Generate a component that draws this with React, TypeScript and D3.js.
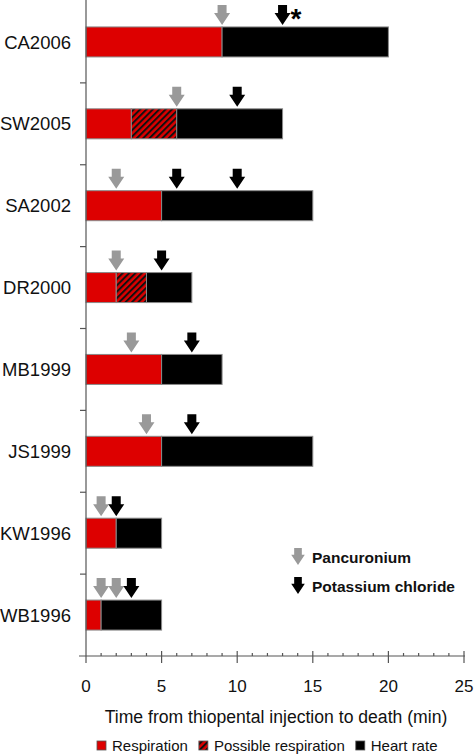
import React, { useEffect, useRef } from 'react';
import * as d3 from 'd3';

// subjects, top to bottom
const subjects = ['CA2006', 'SW2005', 'SA2002', 'DR2000', 'MB1999', 'JS1999', 'KW1996', 'WB1996'];
// phase durations (min), stacked left to right
const respiration = [9, 3, 5, 2, 5, 5, 2, 1];
const possibleRespiration = [0, 3, 0, 2, 0, 0, 0, 0];
const heartRate = [11, 7, 10, 3, 4, 10, 3, 4];
// drug injection times (min)
const pancuronium = [[9], [6], [2], [2], [3], [4], [1], [1, 2]];
const potassiumChloride = [[13], [10], [6, 10], [5], [7], [7], [2], [3]];
const starred = ['CA2006'];

const xTicks = [0, 5, 10, 15, 20, 25];
const phases = ['Respiration', 'Possible respiration', 'Heart rate'];
const drugs = ['Pancuronium', 'Potassium chloride'];

const W = 474;
const H = 754;
const FONT = '"Liberation Sans", Arial, sans-serif';
const RED = '#dd0000';
const GREY = '#999999';

// block arrow pointing down, tip at (cx, tip)
const arrowPath = (cx: number, tip: number, s = 1) => {
  const h = 20 * s, hh = 12 * s, hw = 8 * s, sw = 4.5 * s;
  return `M${cx - sw},${tip - h}L${cx + sw},${tip - h}L${cx + sw},${tip - hh}L${cx + hw},${tip - hh}` +
    `L${cx},${tip}L${cx - hw},${tip - hh}L${cx - sw},${tip - hh}Z`;
};

const App: React.FC = () => {
  const svgRef = useRef<SVGSVGElement | null>(null);

  useEffect(() => {
    const svg = d3.select(svgRef.current);
    svg.selectAll('*').remove();

    const x = d3.scaleLinear().domain([0, 25]).range([86, 464]);
    const y = d3.scaleBand().domain(subjects).range([1, 656]).paddingInner(0).paddingOuter(0);
    const barH = 30;

    const defs = svg.append('defs');
    const pat = defs.append('pattern')
      .attr('id', 'hatch')
      .attr('patternUnits', 'userSpaceOnUse')
      .attr('width', 4.5)
      .attr('height', 4.5)
      .attr('patternTransform', 'rotate(45)');
    pat.append('rect').attr('width', 4.5).attr('height', 4.5).attr('fill', RED);
    pat.append('rect').attr('width', 2).attr('height', 4.5).attr('fill', '#111');

    const rows = subjects.map((s, i) => ({
      subject: s,
      Respiration: respiration[i],
      'Possible respiration': possibleRespiration[i],
      'Heart rate': heartRate[i],
    }));
    const stack = d3.stack<any>().keys(phases)(rows);
    const fills = [RED, 'url(#hatch)', '#000'];

    // bars
    stack.forEach((layer, k) => {
      svg.append('g').selectAll('rect')
        .data(layer.filter(d => d[1] > d[0]))
        .join('rect')
        .attr('x', d => x(d[0]))
        .attr('y', d => y(d.data.subject)! + y.bandwidth() / 2 - barH / 2)
        .attr('width', d => x(d[1]) - x(d[0]))
        .attr('height', barH)
        .attr('fill', fills[k])
        .attr('stroke', '#8a8a8a')
        .attr('stroke-width', 1);
    });

    // y axis
    const gy = svg.append('g');
    gy.append('line').attr('x1', 86).attr('x2', 86).attr('y1', 0).attr('y2', 663)
      .attr('stroke', '#555').attr('stroke-width', 1.2);
    subjects.slice(1).forEach(s => {
      gy.append('line').attr('x1', 80).attr('x2', 86)
        .attr('y1', y(s)!).attr('y2', y(s)!)
        .attr('stroke', '#555').attr('stroke-width', 1.2);
    });
    gy.selectAll('text.lab')
      .data(subjects)
      .join('text')
      .attr('class', 'lab')
      .attr('x', 71)
      .attr('y', d => y(d)! + y.bandwidth() / 2)
      .attr('dy', '0.36em')
      .attr('text-anchor', 'end')
      .attr('font-family', FONT)
      .attr('font-size', 18.5)
      .attr('fill', '#111')
      .text(d => d);

    // x axis
    const gx = svg.append('g');
    gx.append('line').attr('x1', 79).attr('x2', 465).attr('y1', 656).attr('y2', 656)
      .attr('stroke', '#555').attr('stroke-width', 1.2);
    d3.range(1, 26).forEach(v => {
      const major = v % 5 === 0;
      gx.append('line')
        .attr('x1', x(v)).attr('x2', x(v))
        .attr('y1', major ? 651 : 653).attr('y2', major ? 663 : 656)
        .attr('stroke', '#555').attr('stroke-width', 1.2);
    });
    gx.selectAll('text.tick')
      .data(xTicks)
      .join('text')
      .attr('class', 'tick')
      .attr('x', d => x(d))
      .attr('y', 686)
      .attr('dy', '0.36em')
      .attr('text-anchor', 'middle')
      .attr('font-family', FONT)
      .attr('font-size', 17)
      .attr('fill', '#111')
      .text(d => d);
    svg.append('text')
      .attr('x', 276)
      .attr('y', 717)
      .attr('dy', '0.36em')
      .attr('text-anchor', 'middle')
      .attr('font-family', FONT)
      .attr('font-size', 17.6)
      .attr('fill', '#111')
      .text('Time from thiopental injection to death (min)');

    // arrows
    subjects.forEach((s, i) => {
      const tip = y(s)! + y.bandwidth() / 2 - barH / 2 - 2;
      pancuronium[i].forEach(t => {
        svg.append('path').attr('d', arrowPath(x(t), tip)).attr('fill', GREY);
      });
      potassiumChloride[i].forEach(t => {
        svg.append('path').attr('d', arrowPath(x(t), tip)).attr('fill', '#000');
      });
      if (starred.includes(s)) {
        const last = d3.max(potassiumChloride[i])!;
        svg.append('text')
          .attr('x', x(last) + 8)
          .attr('y', tip + 3)
          .attr('font-family', FONT)
          .attr('font-weight', 'bold')
          .attr('font-size', 28)
          .attr('fill', '#000')
          .text('*');
      }
    });

    // drug legend
    const dl = svg.append('g');
    drugs.forEach((d, i) => {
      const cy = 557 + i * 29;
      dl.append('path').attr('d', arrowPath(298, cy + 8, 0.85)).attr('fill', i === 0 ? GREY : '#000');
      dl.append('text')
        .attr('x', 312)
        .attr('y', cy)
        .attr('dy', '0.36em')
        .attr('font-family', FONT)
        .attr('font-weight', 'bold')
        .attr('font-size', 15.5)
        .attr('fill', '#111')
        .text(d);
    });

    // phase legend
    const pl = svg.append('g');
    let cx = 97;
    phases.forEach((p, i) => {
      pl.append('rect')
        .attr('x', cx).attr('y', 741).attr('width', 9).attr('height', 9)
        .attr('fill', fills[i]).attr('stroke', '#555').attr('stroke-width', 0.8);
      const t = pl.append('text')
        .attr('x', cx + 15)
        .attr('y', 745.5)
        .attr('dy', '0.36em')
        .attr('font-family', FONT)
        .attr('font-size', 15)
        .attr('fill', '#111')
        .text(p);
      const w = (t.node() as SVGTextElement).getComputedTextLength();
      cx += 15 + w + 11;
    });
  }, []);

  return (
    <svg
      ref={svgRef}
      width={W}
      height={H}
      style={{ position: 'absolute', left: 0, top: 0, background: '#fff' }}
    />
  );
};

export default App;
